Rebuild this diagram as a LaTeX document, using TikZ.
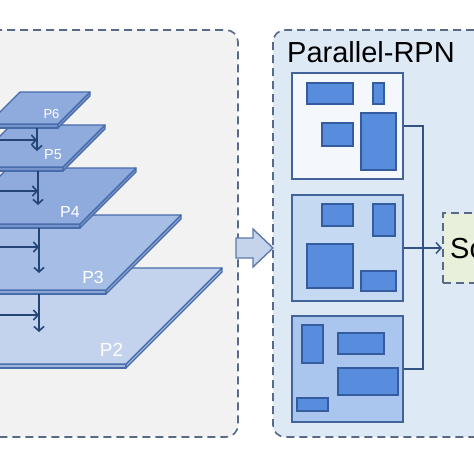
\documentclass[tikz,border=0pt]{standalone}
\usepackage{fontspec}
\setmainfont{Liberation Sans}
\usetikzlibrary{arrows.meta}
\definecolor{boxline}{RGB}{88,106,136}
\definecolor{leftfill}{RGB}{242,242,242}
\definecolor{rightfill}{RGB}{222,233,246}
\definecolor{greenfill}{RGB}{232,239,219}
\definecolor{planeA}{RGB}{143,170,220}
\definecolor{planeAs}{RGB}{118,147,204}
\definecolor{planeB}{RGB}{166,189,229}
\definecolor{planeBs}{RGB}{138,164,212}
\definecolor{planeC}{RGB}{195,210,237}
\definecolor{planeCs}{RGB}{160,182,222}
\definecolor{planeline}{RGB}{72,108,170}
\definecolor{arrowcol}{RGB}{36,68,118}
\definecolor{pan1}{RGB}{244,247,252}
\definecolor{pan2}{RGB}{198,217,243}
\definecolor{pan3}{RGB}{170,197,238}
\definecolor{panline}{RGB}{66,100,155}
\definecolor{rectfill}{RGB}{88,141,222}
\definecolor{rectline}{RGB}{52,92,158}
\definecolor{blockfill}{RGB}{197,212,235}
\definecolor{blockline}{RGB}{92,122,172}
\definecolor{connline}{RGB}{50,82,130}
\newcommand{\fplane}[6]{%
  % #1 top y, #2 depth, #3 top-left x, #4 top-right x, #5 fill, #6 side fill
  \filldraw[planeedge,fill=#6] ({#3-#2},{#1+#2}) -- ({#4-#2},{#1+#2}) -- ({#4-#2},{#1+#2+4}) -- ({#3-#2},{#1+#2+4}) -- cycle;
  \filldraw[planeedge,fill=#6] ({#4-#2},{#1+#2}) -- (#4,#1) -- (#4,{#1+4}) -- ({#4-#2},{#1+#2+4}) -- cycle;
  \filldraw[planeedge,fill=#5] (#3,#1) -- (#4,#1) -- ({#4-#2},{#1+#2}) -- ({#3-#2},{#1+#2}) -- cycle;
}
\begin{document}
\begin{tikzpicture}[x=1pt,y=-1pt,
  dashedbox/.style={draw=boxline,line width=1.6pt,dash pattern=on 8pt off 5pt,rounded corners=12pt},
  planeedge/.style={draw=planeline,line width=1.2pt,line join=round},
  lbl/.style={text=white,inner sep=0pt},
  fpnarrow/.style={draw=arrowcol,line width=1.8pt,-{Straight Barb[length=4.5pt,width=10pt,line width=1.6pt]}},
  panel/.style={draw=panline,line width=1.5pt,minimum width=111pt,minimum height=106pt,inner sep=0pt},
  proposal/.style={fill=rectfill,draw=rectline,line width=1.2pt},
  conn/.style={draw=connline,line width=1.6pt}]
\useasboundingbox (0,0) rectangle (474,474);
\clip (0,0) rectangle (474,474);
\fill[white] (0,0) rectangle (474,474);
% containers
\path[dashedbox,fill=leftfill] (-40,30) rectangle (238,437);
\path[dashedbox,fill=rightfill] (273,30) rectangle (520,437);
% feature pyramid planes
\fplane{268}{96}{-120}{222}{planeC}{planeCs}
\fplane{215}{75}{-80}{181}{planeB}{planeBs}
\fplane{168}{56}{8}{136}{planeA}{planeAs}
\fplane{125}{42}{11}{105}{planeA}{planeAs}
\fplane{92}{32}{20}{90}{planeA}{planeAs}
% labels
\node[lbl,font=\fontsize{13}{15}\selectfont] (p6) at (51.5,114) {P6};
\node[lbl,font=\fontsize{14.5}{17}\selectfont] (p5) at (53,155) {P5};
\node[lbl,font=\fontsize{16}{19}\selectfont] (p4) at (70,212) {P4};
\node[lbl,font=\fontsize{17.5}{20}\selectfont] (p3) at (93,277) {P3};
\node[lbl,font=\fontsize{19}{22}\selectfont] (p2) at (111.5,350) {P2};
% top-down and lateral arrows
\coordinate (v6a) at (37,128); \coordinate (v6b) at (37,151);
\coordinate (v5a) at (38,171); \coordinate (v5b) at (38,205);
\coordinate (v4a) at (39,228); \coordinate (v4b) at (39,273);
\coordinate (v3a) at (39,294); \coordinate (v3b) at (39,332);
\coordinate (h5a) at (-5,140); \coordinate (h4a) at (-5,191);
\coordinate (h3a) at (-5,247); \coordinate (h2a) at (-5,315);
\path[fpnarrow] (v6a) -- (v6b);
\path[fpnarrow] (v5a) -- (v5b);
\path[fpnarrow] (v4a) -- (v4b);
\path[fpnarrow] (v3a) -- (v3b);
\path[fpnarrow] (h5a) -- (h5a -| v6a);
\path[fpnarrow] (h4a) -- (h4a -| v5a);
\path[fpnarrow] (h3a) -- (h3a -| v4a);
\path[fpnarrow] (h2a) -- (h2a -| v3a);
% block arrow
\filldraw[fill=blockfill,draw=blockline,line width=1.4pt,line join=miter]
  (236,238) -- (253,238) -- (253,229) -- (273,248) -- (253,267) -- (253,258) -- (236,258) -- cycle;
% Parallel-RPN
\node[anchor=base west,inner sep=0pt,font=\fontsize{29}{34}\selectfont] (title) at (287,62) {Parallel-RPN};
\node[panel,fill=pan1] (pa) at (347.5,126) {};
\node[panel,fill=pan2] (pb) at (347.5,248) {};
\node[panel,fill=pan3] (pc) at (347.5,369) {};
% proposals panel 1
\filldraw[proposal] (307,83) rectangle (353,104);
\filldraw[proposal] (373,83) rectangle (384,104);
\filldraw[proposal] (322,123) rectangle (353,146);
\filldraw[proposal] (361,113) rectangle (396,170);
% panel 2
\filldraw[proposal] (322,204) rectangle (353,226);
\filldraw[proposal] (373,204) rectangle (395,236);
\filldraw[proposal] (307,244) rectangle (353,288);
\filldraw[proposal] (361,271) rectangle (396,291);
% panel 3
\filldraw[proposal] (302,325) rectangle (323,363);
\filldraw[proposal] (338,333) rectangle (384,354);
\filldraw[proposal] (338,368) rectangle (398,395);
\filldraw[proposal] (297,398) rectangle (328,411);
% score box
\node[dashedbox,rounded corners=0pt,fill=greenfill,minimum width=90pt,minimum height=70pt,anchor=north west,inner sep=0pt] (sc) at (442,212) {};
\node[anchor=base west,inner sep=0pt,font=\fontsize{29}{34}\selectfont] (sctext) at (450,258) {Score};
% connectors
\coordinate (bus) at (423,126);
\path[conn] (pa.east) -- (bus) |- (pc.east);
\path[conn,-{Straight Barb[length=5pt,width=11pt,line width=1.5pt]}] (pb.east) -- (pb.east -| sc.west);
\end{tikzpicture}
\end{document}
